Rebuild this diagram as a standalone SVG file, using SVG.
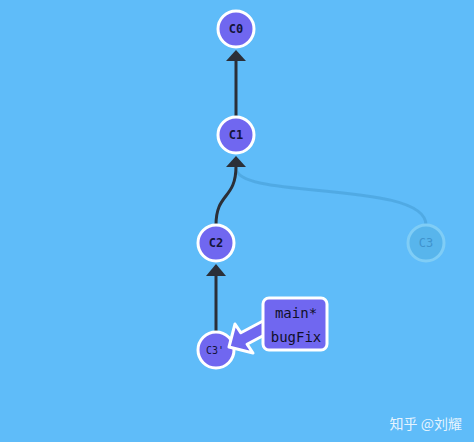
<svg xmlns="http://www.w3.org/2000/svg" width="474" height="442" viewBox="0 0 474 442">
<style>
.node{fill:#7067f0;stroke:#ffffff;stroke-width:3}
.lbl{font-family:"DejaVu Sans Mono","Liberation Mono",monospace;font-size:12px;font-weight:bold;fill:#14143a;text-anchor:middle}
.edge{fill:none;stroke:#2b2f38;stroke-width:3}
.head{fill:#2b2f38}
.tag{fill:#7067f0;stroke:#ffffff;stroke-width:3;stroke-linejoin:round}
.tagtxt{font-family:"DejaVu Sans Mono","Liberation Mono",monospace;font-size:14px;fill:#10102a;text-anchor:middle}
</style>
<rect width="474" height="442" fill="#5fbcf9"/>
<g id="connectors">
<path d="M426,225 C426,180 236,200 236,168" fill="none" stroke="#4aa3dc" stroke-width="3" stroke-opacity="0.7"/>
<line class="edge" x1="236" y1="117" x2="236" y2="60"/>
<polygon class="head" points="236,50 226,61 246,61"/>
<path class="edge" d="M216,225 C216,192 236,200 236,166"/>
<polygon class="head" points="236,156 226,167 246,167"/>
<line class="edge" x1="216" y1="332" x2="216" y2="275"/>
<polygon class="head" points="216,264 206,276 226,276"/>
</g>
<g id="C0"><circle class="node" cx="236" cy="29" r="18"/><text class="lbl" x="236" y="33">C0</text></g>
<g id="C1"><circle class="node" cx="236" cy="135" r="18"/><text class="lbl" x="236" y="139">C1</text></g>
<g id="C2"><circle class="node" cx="216" cy="243" r="18"/><text class="lbl" x="216" y="247">C2</text></g>
<g id="C3"><circle cx="426" cy="243" r="18" fill="#58b5ec" stroke="#7fcdf6" stroke-width="3"/><text class="lbl" x="426" y="247" style="fill:#3f93cc;font-weight:normal">C3</text></g>
<g id="C3p"><circle class="node" cx="216" cy="350" r="18"/><text class="lbl" x="215" y="354" style="font-size:10px;font-weight:normal">C3'</text></g>
<g id="tag-main">
<polygon class="tag" points="229,347 235,324 240.9,332.8 262.95,321.05 269.05,332.45 247.05,344.2 253,353"/>
<rect class="tag" x="263" y="298" width="64" height="52" rx="6" ry="6"/>
<text class="tagtxt" x="296" y="318">main*</text>
<text class="tagtxt" x="296" y="342">bugFix</text>
</g>
<text x="462" y="429" text-anchor="end" font-family="'Noto Sans CJK SC','Noto Sans',sans-serif" font-size="14" fill="#ffffff" fill-opacity="0.85">知乎 @刘耀</text>
</svg>
